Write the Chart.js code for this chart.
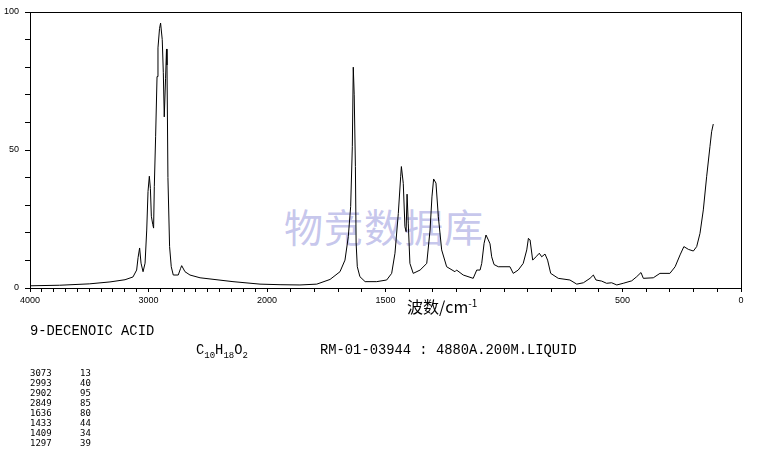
<!DOCTYPE html>
<html>
<head>
<meta charset="utf-8">
<script src="https://cdn.jsdelivr.net/npm/chart.js@4"></script>
<style>
  body { margin: 0; background: #fff; }
  #wrap { position: relative; width: 765px; height: 454px; overflow: hidden; }
  #c { position: absolute; left: 0; top: 0; }
  .txt { position: absolute; font-family: "Liberation Mono", "DejaVu Sans Mono", monospace; color: #000; white-space: pre; line-height: 1; font-size: 13.8px; }
  #mark { position: absolute; left: 284px; top: 206px; font-family: "Noto Sans CJK SC", sans-serif; font-size: 39px; color: rgba(150, 150, 220, 0.55); letter-spacing: 1px; line-height: 1; }
  #xtitle { position: absolute; left: 407px; top: 298px; font-family: "Noto Sans CJK SC", serif; font-size: 16px; line-height: 1; }
  #peaks { position: absolute; left: 30px; top: 368px; font-family: "DejaVu Sans Mono", monospace; font-size: 9px; line-height: 10px; }
  #peaks td { padding: 0; height: 10px; }
</style>
</head>
<body>
<div id="wrap">
  <div id="mark">物竞数据库</div>
  <canvas id="c" width="765" height="454"></canvas>
  <div id="xtitle">波数/cm<sup style="font-size:10px">-1</sup></div>
  <div class="txt" style="left:30px;top:325px;">9-DECENOIC ACID</div>
  <div class="txt" style="left:196px;top:344px;">C<sub style="font-size:9px">10</sub>H<sub style="font-size:9px">18</sub>O<sub style="font-size:9px">2</sub></div>
  <div class="txt" style="left:320px;top:344px;">RM-01-03944 : 4880A.200M.LIQUID</div>
  <table id="peaks" cellspacing="0"></table>
</div>
<script>
// Raman spectrum, 9-decenoic acid
const wavenumber = [
  4000, 3750, 3500, 3325, 3198, 3131, 3100, 3088, 3075, 3063, 3046, 3029, 3015, 3004,
  2993, 2984, 2976, 2964, 2957, 2951, 2940, 2928, 2920, 2907, 2898, 2884, 2875, 2867,
  2856, 2848, 2844, 2836, 2822, 2808, 2791, 2749, 2730, 2720, 2692, 2650, 2565, 2287,
  2059, 1945, 1861, 1790, 1734, 1692, 1671, 1657, 1647, 1640, 1636, 1632, 1627, 1624,
  1619, 1608, 1586, 1537, 1495, 1474, 1460, 1446, 1436, 1433, 1425, 1418, 1413, 1409,
  1404, 1397, 1383, 1354, 1326, 1312, 1304, 1297, 1287, 1277, 1263, 1242, 1207, 1200,
  1172, 1130, 1115, 1101, 1094, 1084, 1076, 1066, 1059, 1052, 1042, 1024, 975, 961,
  940, 919, 904, 897, 890, 879, 865, 851, 841, 827, 816, 803, 771, 722, 693, 665, 637,
  623, 612, 588, 567, 546, 524, 497, 461, 440, 422, 412, 370, 342, 300, 278, 257, 241,
  222, 201, 187, 173, 159, 145, 131, 124, 117
];
const intensity = [
  0.8, 1.0, 1.5, 2.2, 3.0, 4.0, 6.5, 11, 14.5, 9, 5.9, 9, 21, 35,
  40.5, 36, 26, 23, 21.7, 36.7, 54.8, 76.6, 87, 94, 96, 90, 78, 62,
  76, 86.6, 80.8, 40, 15, 7.7, 4.7, 4.7, 7, 8.1, 5.9, 4.7, 3.7, 2.3,
  1.4, 1.2, 1.1, 1.4, 3.1, 5.9, 10.1, 18.6, 29.5, 51.2, 80, 70, 44, 16.3,
  7.7, 4.1, 2.3, 2.3, 2.9, 5.3, 12.6, 27, 40.3, 44, 37.9, 22.2, 20.4, 34,
  23.5, 8.9, 5.3, 6.5, 8.9, 21, 33, 39.5, 38, 25.8, 13.8, 7.7, 5.9, 6.5,
  4.7, 3.5, 6.5, 6.5, 8.9, 16.2, 19.2, 17.4, 16, 11.3, 8.5, 7.7, 7.7, 5.3,
  6.5, 8.9, 13.8, 18, 17.4, 10.1, 11.3, 12.6, 11.3, 12.3, 10.1, 5.3, 3.5, 2.9, 1.4, 1.9, 3.5,
  4.7, 2.9, 2.5, 1.7, 1.9, 1.1, 1.7, 2.6, 4.1, 5.6, 3.5, 3.7, 5.3, 5.3, 7.7, 12, 15,
  14, 13.4, 15, 19.8, 28.3, 40.3, 51.2, 56.6, 59.4
];

// peak list printed under the chart
const peakWn = [3073, 2993, 2902, 2849, 1636, 1433, 1409, 1297];
const peakInt = [13, 40, 95, 85, 80, 44, 34, 39];

const xLabels = [4000, 3000, 2000, 1500, 500, 0];
const yLabels = [0, 50, 100];

// the x axis is compressed by half above 2000 cm-1
const toAxis = w => w > 2000 ? 2000 + (w - 2000) / 2 : w;
const fromAxis = u => u > 2000 ? 2000 + (u - 2000) * 2 : u;

const tbl = document.getElementById("peaks");
peakWn.forEach((w, i) => {
  const tr = document.createElement("tr");
  tr.innerHTML = `<td style="width:50px">${w}</td><td>${peakInt[i]}</td>`;
  tbl.appendChild(tr);
});

const frame = {
  id: "frame",
  afterDraw(chart) {
    const { ctx, chartArea: a } = chart;
    ctx.save();
    ctx.strokeStyle = "#000";
    ctx.lineWidth = 1;
    ctx.strokeRect(a.left + 0.5, a.top + 0.5, a.right - a.left, a.bottom - a.top);
    ctx.restore();
  }
};

const tickFont = { family: "Liberation Sans", size: 9 };

new Chart(document.getElementById("c"), {
  type: "line",
  data: {
    datasets: [{
      data: wavenumber.map((w, i) => ({ x: toAxis(w), y: intensity[i] })),
      borderColor: "#000",
      borderWidth: 1,
      pointRadius: 0,
      tension: 0,
      fill: false
    }]
  },
  options: {
    responsive: false,
    animation: false,
    layout: { padding: { top: 12, right: 24, left: 0, bottom: 0 } },
    plugins: { legend: { display: false }, tooltip: { enabled: false } },
    scales: {
      x: {
        type: "linear",
        reverse: true,
        min: 0,
        max: 3000,
        afterBuildTicks: (scale) => {
          const t = [];
          for (let w = 0; w <= 4000; w += 100) t.push({ value: toAxis(w) });
          scale.ticks = t;
        },
        afterFit: (scale) => { scale.height = 166; },
        grid: { drawOnChartArea: false, tickLength: 4, color: "#000" },
        border: { color: "#000" },
        ticks: {
          autoSkip: false,
          maxRotation: 0,
          minRotation: 0,
          padding: 3,
          color: "#000",
          font: tickFont,
          callback: (v) => {
            const w = Math.round(fromAxis(v));
            return xLabels.includes(w) ? String(w) : "";
          }
        }
      },
      y: {
        min: 0,
        max: 100,
        afterFit: (scale) => { scale.width = 30; },
        grid: { drawOnChartArea: false, tickLength: 5, color: "#000" },
        border: { color: "#000" },
        ticks: {
          stepSize: 10,
          padding: 6,
          color: "#000",
          font: tickFont,
          callback: (v) => yLabels.includes(v) ? String(v) : ""
        }
      }
    }
  },
  plugins: [frame]
});
</script>
</body>
</html>
